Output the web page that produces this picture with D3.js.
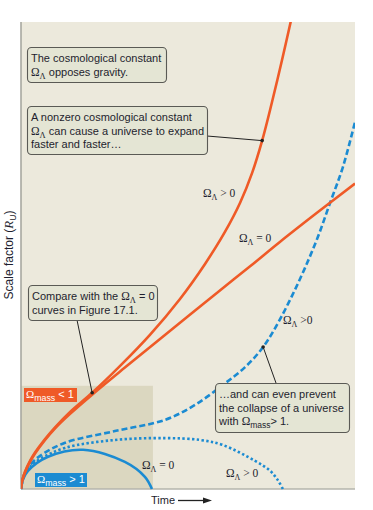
<!DOCTYPE html>
<html><head><meta charset="utf-8">
<script src="https://cdn.jsdelivr.net/npm/d3@7/dist/d3.min.js"></script>
<style>
html,body{margin:0;padding:0;background:#fff;}
svg{display:block;}
</style></head>
<body>
<script>
// Data (time 0-100, scale factor 0-100, arbitrary units)
const accelOpen = [[0,0],[0.3,1.6],[1.2,3.7],[2.7,6.0],[4.2,7.8],[7.2,10.7],[10.2,13.2],[14.7,16.5],[21.3,20.6],[29.6,26.3],[38.6,33.0],[47.6,40.7],[55.1,48.2],[61.1,55.1],[65.6,61.3],[69.2,67.7],[72.2,74.6],[75.1,82.7],[78.1,91.7],[80.8,100.2]];
const linearOpen = [[0,0],[0.3,1.6],[1.2,3.6],[2.7,5.8],[4.2,7.6],[7.2,10.5],[10.2,13.0],[14.7,16.1],[21.3,20.2],[31.1,26.0],[40.7,31.6],[50.0,37.0],[59.0,42.2],[68.6,47.7],[77.5,52.9],[88.9,59.3],[100,65.4]];
const dashedClosed = [[0,0],[0.9,3.0],[2.7,5.1],[5.7,7.1],[13.2,9.9],[28.1,12.4],[43.1,14.8],[52.1,18.0],[60.5,22.3],[67.1,26.1],[72.5,30.4],[76.9,35.5],[81.1,41.3],[85.0,47.3],[88.9,54.0],[92.5,61.2],[96.4,69.0],[100,78.6]];
const dottedClosed = [[0,0],[0.9,2.8],[2.7,4.7],[5.7,6.4],[13.2,8.8],[28.1,10.5],[43.1,10.9],[53.6,10.5],[60.5,9.4],[70.1,6.0],[74.6,3.9],[76.9,1.9],[78.4,0]];
const solidClosed = [[0,0],[0.6,2.1],[2.1,3.9],[8.1,6.9],[18.6,8.4],[31.1,5.8],[37.1,2.6],[39.2,0]];

const W = 373, H = 510;
const svg = d3.select("body").append("svg").attr("width", W).attr("height", H);
const x = d3.scaleLinear().domain([0,100]).range([21,355]);
const y = d3.scaleLinear().domain([0,100]).range([489,22]);

const ORANGE = "#ef5a27", BLUE = "#1b8bd2", TXT = "#1e1e2e";
const SANS = "'Liberation Sans', Arial, sans-serif";
const SERIF = "'Liberation Serif', 'Times New Roman', serif";

// background
svg.append("rect").attr("x", x(0)).attr("y", y(100)).attr("width", x(100)-x(0)).attr("height", y(0)-y(100)).attr("fill", "#ece9dc");
// shaded region
svg.append("rect").attr("x", x(0)).attr("y", y(22.1)).attr("width", x(39.5)-x(0)).attr("height", y(0)-y(22.1)).attr("fill", "#dbd7c0");
// axes
svg.append("line").attr("x1", x(0)).attr("x2", x(0)).attr("y1", y(100)).attr("y2", y(0)).attr("stroke", "#a8a8a0").attr("stroke-width", 1.6);
svg.append("line").attr("x1", x(0)).attr("x2", x(100)).attr("y1", y(0)).attr("y2", y(0)).attr("stroke", "#b4b4ac").attr("stroke-width", 1.6);

const line = d3.line().x(d => x(d[0])).y(d => y(d[1])).curve(d3.curveCatmullRom.alpha(0.5));
svg.append("clipPath").attr("id","plotclip").append("rect").attr("x", x(0)).attr("y", y(100)).attr("width", x(100)-x(0)).attr("height", y(0)-y(100)+2);
const g = svg.append("g").attr("clip-path","url(#plotclip)");

g.append("path").attr("d", line(solidClosed)).attr("fill","none").attr("stroke",BLUE).attr("stroke-width",2.6);
g.append("path").attr("d", line(dottedClosed)).attr("fill","none").attr("stroke",BLUE).attr("stroke-width",2.6).attr("stroke-dasharray","2.4,2.4");
g.append("path").attr("d", line(dashedClosed)).attr("fill","none").attr("stroke",BLUE).attr("stroke-width",2.6).attr("stroke-dasharray","6,3");
g.append("path").attr("d", line(linearOpen)).attr("fill","none").attr("stroke",ORANGE).attr("stroke-width",2.6);
g.append("path").attr("d", line(accelOpen)).attr("fill","none").attr("stroke",ORANGE).attr("stroke-width",2.6);

// helper: omega label with subscript
function omegaLabel(px, py, sub, rest, opts = {}) {
  const t = svg.append("text").attr("x", px).attr("y", py).attr("font-size", opts.size || 11.5).attr("fill", opts.fill || TXT);
  t.append("tspan").attr("font-family", SERIF).text("Ω");
  t.append("tspan").attr("font-family", opts.subFamily || SERIF).attr("font-size", opts.subSize || 8).attr("dy", 3).text(sub);
  t.append("tspan").attr("font-family", opts.restFamily || SERIF).attr("dy", -3).text(rest);
  return t;
}

// Curve labels
omegaLabel(203, 197, "Λ", " > 0");
omegaLabel(239, 242, "Λ", " = 0");
omegaLabel(283, 324, "Λ", " >0");
omegaLabel(142, 469, "Λ", " = 0");
omegaLabel(226, 477, "Λ", " > 0");

// colored boxes
svg.append("rect").attr("x", 24).attr("y", 388).attr("width", 53).attr("height", 14).attr("fill", ORANGE);
omegaLabel(26, 398, "mass", " < 1", {fill:"#fff", subFamily: SANS, restFamily: SANS, subSize: 8.8, size: 11});
svg.append("rect").attr("x", 35).attr("y", 473).attr("width", 52).attr("height", 14).attr("fill", BLUE);
omegaLabel(37, 483, "mass", " > 1", {fill:"#fff", subFamily: SANS, restFamily: SANS, subSize: 8.8, size: 11});

// Annotation boxes
const annotations = [
  {x:27, y:47, w:139, h:35, lines:[["The cosmological constant"],["Ω","Λ"," opposes gravity."]]},
  {x:27, y:106, w:180, h:48, lines:[["A nonzero cosmological constant"],["Ω","Λ"," can cause a universe to expand"],["faster and faster…"]], from:[207,136], target: accelOpen[16]},
  {x:28, y:285, w:129, h:35, lines:[["Compare with the ","Ω","Λ"," = 0"],["curves in Figure 17.1."]], from:[77,320], target: accelOpen[8]},
  {x:215, y:383, w:134, h:49, lines:[["…and can even prevent"],["the collapse of a universe"],["with ","Ω","mass","> 1."]], from:[276,383], target: dashedClosed[10]}
];

annotations.forEach(a => {
  if (a.target) {
    svg.append("line").attr("x1", a.from[0]).attr("y1", a.from[1]).attr("x2", x(a.target[0])).attr("y2", y(a.target[1])).attr("stroke", "#222").attr("stroke-width", 1);
    svg.append("circle").attr("cx", x(a.target[0])).attr("cy", y(a.target[1])).attr("r", 1.8).attr("fill", "#222");
  }
  svg.append("rect").attr("x", a.x+0.5).attr("y", a.y+0.5).attr("width", a.w).attr("height", a.h).attr("rx", 4)
    .attr("fill", "#e4e5d4").attr("stroke", "#5a5a55").attr("stroke-width", 1.1);
  a.lines.forEach((parts, i) => {
    const t = svg.append("text").attr("x", a.x + 4).attr("y", a.y + 15 + i*13.5).attr("font-family", SANS).attr("font-size", 11).attr("fill", TXT);
    let k = 0;
    while (k < parts.length) {
      const p = parts[k];
      if (p === "Ω") {
        t.append("tspan").attr("font-family", SERIF).attr("font-size", 11.5).text("Ω");
        const sub = parts[k+1];
        t.append("tspan").attr("font-family", sub === "Λ" ? SERIF : SANS).attr("font-size", 8.5).attr("dy", 3).text(sub);
        t.append("tspan").attr("dy", -3).text(parts[k+2] || "");
        k += 3;
      } else {
        t.append("tspan").text(p);
        k += 1;
      }
    }
  });
});

// Axis titles
const yl = svg.append("text").attr("transform", "translate(13,255) rotate(-90)").attr("text-anchor", "middle")
  .attr("font-family", SANS).attr("font-size", 12).attr("fill", TXT);
yl.append("tspan").text("Scale factor (");
yl.append("tspan").attr("font-style", "italic").attr("font-family", SERIF).attr("font-size", 13).text("R");
yl.append("tspan").attr("font-size", 8.5).attr("dy", 3).text("U");
yl.append("tspan").attr("dy", -3).text(")");

svg.append("text").attr("x", 151).attr("y", 504).attr("font-family", SANS).attr("font-size", 11).attr("fill", TXT).text("Time");
svg.append("line").attr("x1", 178).attr("x2", 206).attr("y1", 500.5).attr("y2", 500.5).attr("stroke", "#222").attr("stroke-width", 1.3);
svg.append("path").attr("d", "M203,497.5 L212,500.5 L203,503.5 Z").attr("fill", "#222");
</script>
</body></html>
